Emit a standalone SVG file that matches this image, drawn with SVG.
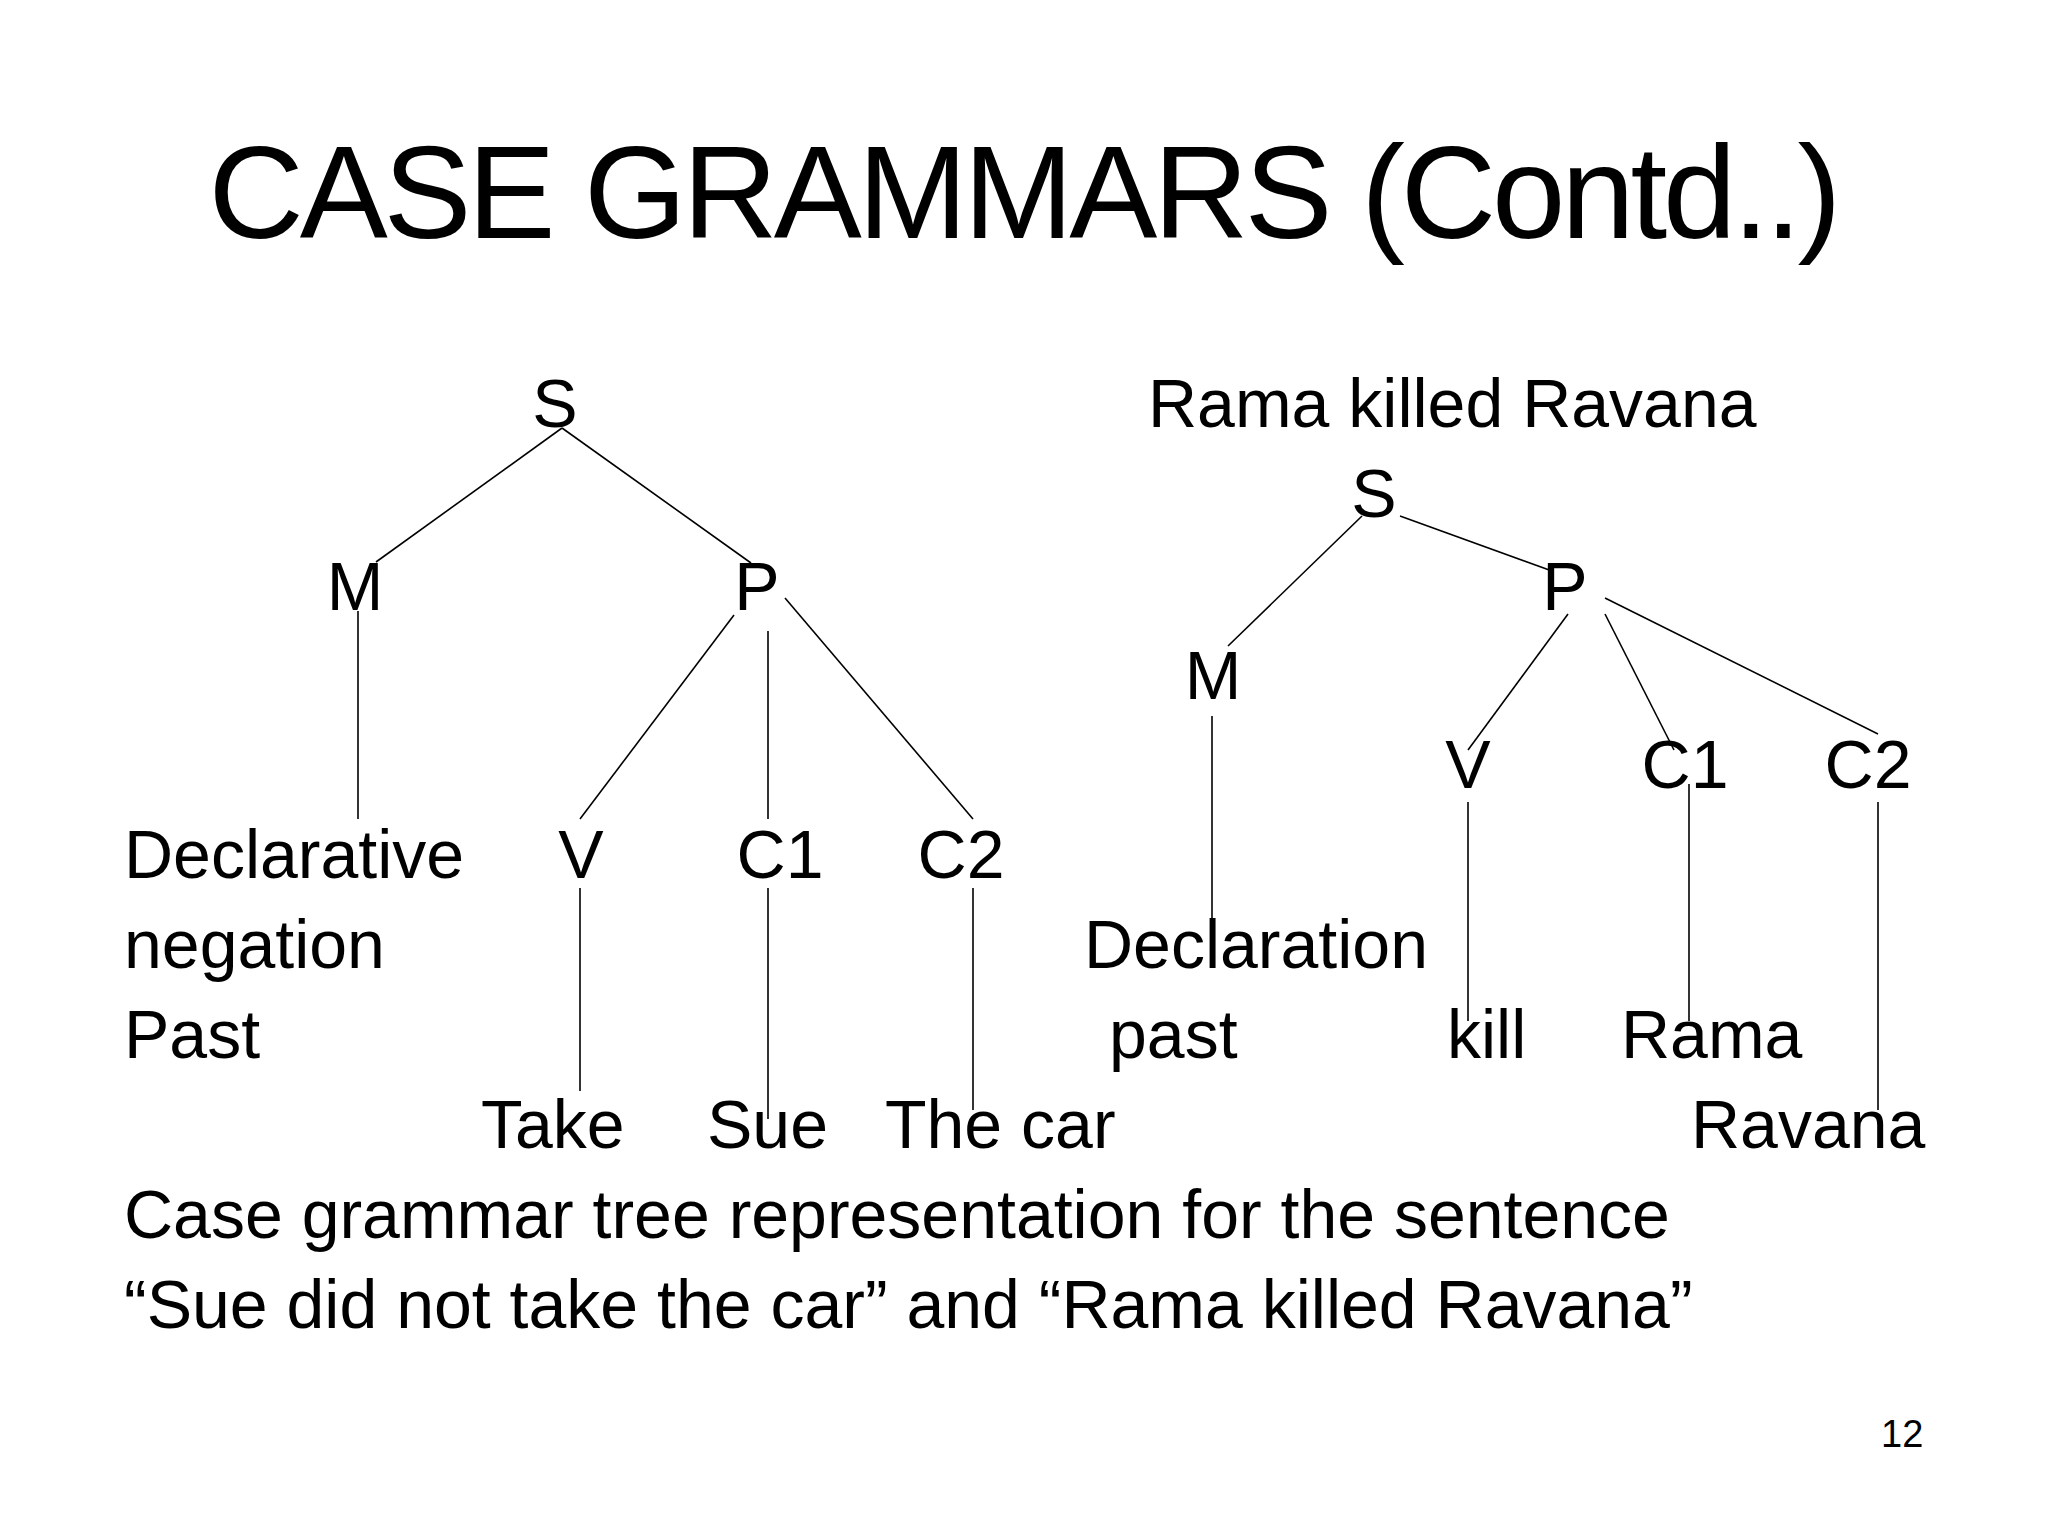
<svg xmlns="http://www.w3.org/2000/svg" width="2048" height="1536" viewBox="0 0 2048 1536">
<style>
text{font-family:"Liberation Sans",Arial,sans-serif;fill:#000}
.t{font-size:68px}
.m{text-anchor:middle}
line{stroke:#000;stroke-width:1.6}
</style>
<rect width="2048" height="1536" fill="#fff"/>
<text x="1025" y="238" font-size="132" class="m" textLength="1633">CASE GRAMMARS (Contd..)</text>
<g id="connectors">
<line x1="562" y1="428" x2="376" y2="562"/>
<line x1="562" y1="428" x2="751" y2="563"/>
<line x1="358" y1="611" x2="358" y2="819"/>
<line x1="734" y1="615" x2="580" y2="819"/>
<line x1="768" y1="631" x2="768" y2="819"/>
<line x1="785" y1="598" x2="973" y2="819"/>
<line x1="580" y1="888" x2="580" y2="1091"/>
<line x1="768" y1="888" x2="768" y2="1119"/>
<line x1="973" y1="888" x2="973" y2="1110"/>
<line x1="1362" y1="516" x2="1228" y2="646"/>
<line x1="1400" y1="516" x2="1552" y2="571"/>
<line x1="1212" y1="716" x2="1212" y2="925"/>
<line x1="1568" y1="614" x2="1468" y2="750"/>
<line x1="1605" y1="614" x2="1674" y2="750"/>
<line x1="1605" y1="598" x2="1878" y2="734"/>
<line x1="1468" y1="802" x2="1468" y2="1021"/>
<line x1="1689" y1="784" x2="1689" y2="1021"/>
<line x1="1878" y1="802" x2="1878" y2="1110"/>
</g>
<g id="lS"><text class="t m" x="555" y="427">S</text></g>
<g id="lM"><text class="t m" x="355" y="610">M</text></g>
<g id="lP"><text class="t m" x="757" y="610">P</text></g>
<g id="lDecl"><text class="t" x="124" y="878">Declarative</text><text class="t" x="124" y="968">negation</text><text class="t" x="124" y="1058">Past</text></g>
<g id="lV"><text class="t m" x="581" y="878">V</text></g>
<g id="lC1"><text class="t m" x="780" y="878">C1</text></g>
<g id="lC2"><text class="t m" x="961" y="878">C2</text></g>
<g id="lTake"><text class="t" x="481" y="1148">Take</text></g>
<g id="lSue"><text class="t" x="707" y="1148">Sue</text></g>
<g id="lCar"><text class="t" x="885" y="1148">The car</text></g>
<g id="rTitle"><text class="t" x="1148" y="427">Rama killed Ravana</text></g>
<g id="rS"><text class="t m" x="1374" y="517">S</text></g>
<g id="rP"><text class="t m" x="1565" y="610">P</text></g>
<g id="rM"><text class="t m" x="1213" y="699">M</text></g>
<g id="rV"><text class="t m" x="1468" y="788">V</text></g>
<g id="rC1"><text class="t m" x="1685" y="788">C1</text></g>
<g id="rC2"><text class="t m" x="1868" y="788">C2</text></g>
<g id="rDecl"><text class="t" x="1084" y="968">Declaration</text><text class="t" x="1109" y="1058">past</text></g>
<g id="rKill"><text class="t" x="1447" y="1058">kill</text></g>
<g id="rRama"><text class="t" x="1621" y="1058">Rama</text></g>
<g id="rRavana"><text class="t" x="1691" y="1148">Ravana</text></g>
<text class="t" x="124" y="1238">Case grammar tree representation for the sentence</text>
<text class="t" x="124" y="1328">“Sue did not take the car” and “Rama killed Ravana”</text>
<text x="1881" y="1447" font-size="38">12</text>
</svg>
